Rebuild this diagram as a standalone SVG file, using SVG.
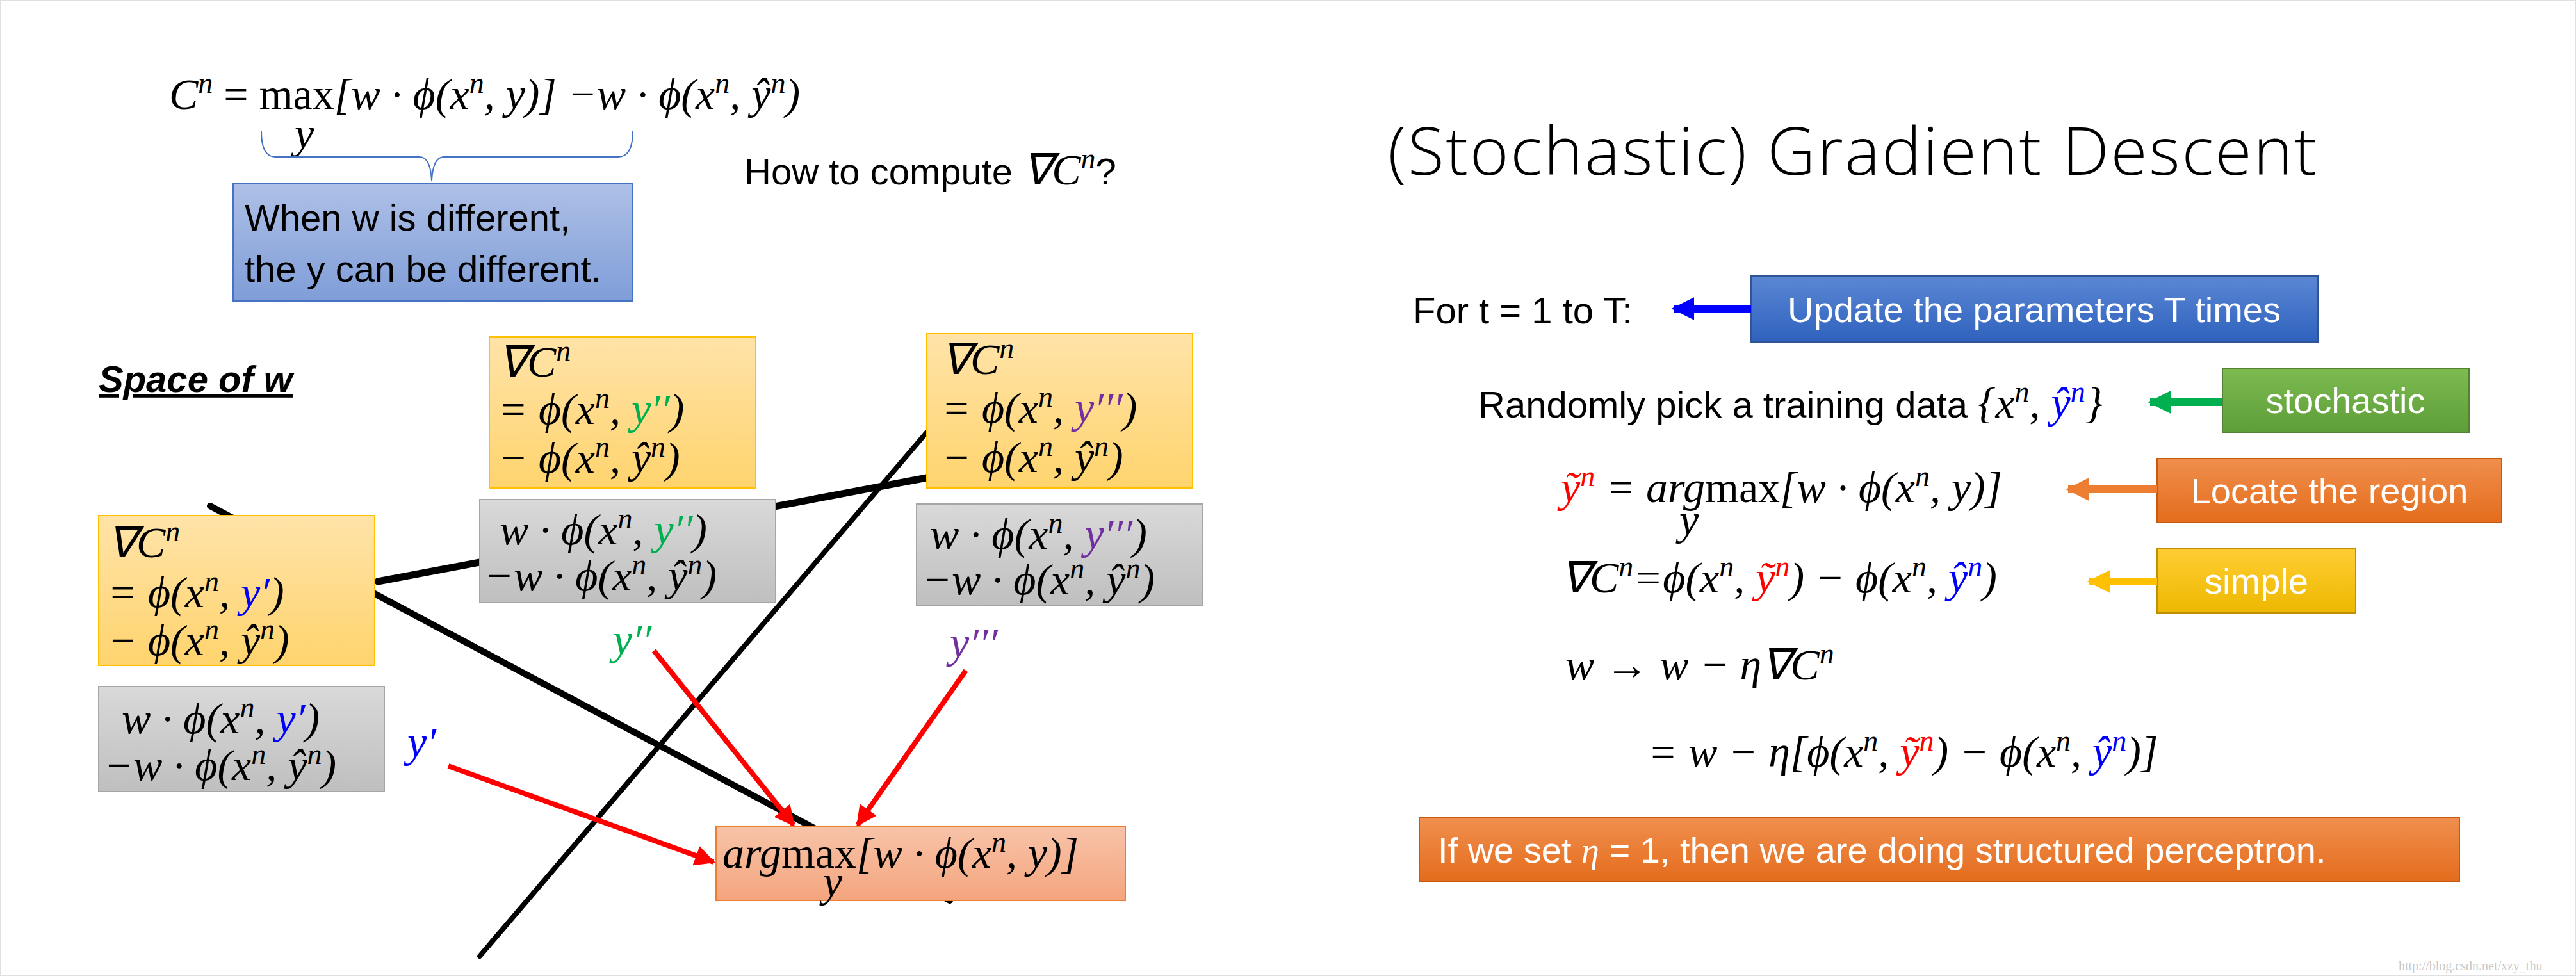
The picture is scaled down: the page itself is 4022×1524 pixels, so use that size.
<svg xmlns="http://www.w3.org/2000/svg" width="4022" height="1524" viewBox="0 0 4022 1524">
<style>
.m{font-family:"Liberation Serif",serif;font-style:italic;font-size:68px;fill:#000}
.t{font-family:"Liberation Sans",Arial,sans-serif;font-size:58px;fill:#000}
.w{font-family:"Liberation Sans",Arial,sans-serif;font-size:56px;fill:#fff}
.s{font-size:46px}
.bl{fill:#0000FF}.gr{fill:#00B050}.pu{fill:#7030A0}.rd{fill:#FF0000}
.yb{fill:url(#gy);stroke:#FFC000;stroke-width:2}
.gb{fill:url(#gg);stroke:#A6A6A6;stroke-width:2}
.bk{stroke:#000;stroke-linecap:round;fill:none}
.ra{stroke:#FF0000;stroke-width:8;fill:none;marker-end:url(#ar)}
</style>
<defs>
<linearGradient id="gy" x1="0" y1="0" x2="0" y2="1"><stop offset="0" stop-color="#FFE3A8"/><stop offset="1" stop-color="#FFD46E"/></linearGradient>
<linearGradient id="gg" x1="0" y1="0" x2="0" y2="1"><stop offset="0" stop-color="#D9D9D9"/><stop offset="1" stop-color="#BFBFBF"/></linearGradient>
<linearGradient id="gb" x1="0" y1="0" x2="0" y2="1"><stop offset="0" stop-color="#AEC0E6"/><stop offset="1" stop-color="#7F9DD8"/></linearGradient>
<linearGradient id="go" x1="0" y1="0" x2="0" y2="1"><stop offset="0" stop-color="#F8C3A8"/><stop offset="1" stop-color="#F4A57E"/></linearGradient>
<linearGradient id="gB" x1="0" y1="0" x2="0" y2="1"><stop offset="0" stop-color="#5B87D4"/><stop offset="1" stop-color="#2F62BE"/></linearGradient>
<linearGradient id="gG" x1="0" y1="0" x2="0" y2="1"><stop offset="0" stop-color="#7DBB51"/><stop offset="1" stop-color="#5E9E38"/></linearGradient>
<linearGradient id="gO" x1="0" y1="0" x2="0" y2="1"><stop offset="0" stop-color="#F08F4E"/><stop offset="1" stop-color="#E46C1C"/></linearGradient>
<linearGradient id="gY" x1="0" y1="0" x2="0" y2="1"><stop offset="0" stop-color="#FFCD33"/><stop offset="1" stop-color="#EDB800"/></linearGradient>
<marker id="ar" viewBox="0 0 10 10" refX="9" refY="5" markerWidth="4" markerHeight="4" orient="auto" markerUnits="strokeWidth"><path d="M0,0 L10,5 L0,10 z" fill="#FF0000"/></marker>
<marker id="aB" viewBox="0 0 10 10" refX="9" refY="5" markerWidth="3" markerHeight="3" orient="auto" markerUnits="strokeWidth"><path d="M0,0 L10,5 L0,10 z" fill="#0000FF"/></marker>
<marker id="aG" viewBox="0 0 10 10" refX="9" refY="5" markerWidth="3" markerHeight="3" orient="auto" markerUnits="strokeWidth"><path d="M0,0 L10,5 L0,10 z" fill="#00B050"/></marker>
<marker id="aO" viewBox="0 0 10 10" refX="9" refY="5" markerWidth="3" markerHeight="3" orient="auto" markerUnits="strokeWidth"><path d="M0,0 L10,5 L0,10 z" fill="#ED7D31"/></marker>
<marker id="aY" viewBox="0 0 10 10" refX="9" refY="5" markerWidth="3" markerHeight="3" orient="auto" markerUnits="strokeWidth"><path d="M0,0 L10,5 L0,10 z" fill="#FFC000"/></marker>
</defs>
<rect x="1" y="1" width="4020" height="1522" fill="#fff" stroke="#E0E0E0" stroke-width="2"/>

<g id="connectors">
<line class="bk" x1="328" y1="790" x2="1483" y2="1406" stroke-width="10"/>
<line class="bk" x1="590" y1="908" x2="1447" y2="746" stroke-width="11"/>
<line class="bk" x1="749" y1="1493" x2="1447" y2="675" stroke-width="8"/>
</g>

<g id="formula-top">
<text class="m" x="264" y="170">C<tspan class="s" dy="-25">n</tspan><tspan dy="25" font-style="normal"> = max</tspan>[w · ϕ(x<tspan class="s" dy="-25">n</tspan><tspan dy="25">, y)]  −w · ϕ(x</tspan><tspan class="s" dy="-25">n</tspan><tspan dy="25">, ŷ</tspan><tspan class="s" dy="-25">n</tspan><tspan dy="25">)</tspan></text>
<text class="m" x="460" y="232" font-size="48">y</text>
<path d="M408,205 Q408,245 430,245 L655,245 Q672,245 674,282 Q676,245 693,245 L965,245 Q988,245 988,205" fill="none" stroke="#4472C4" stroke-width="2"/>
</g>
<g id="note-blue">
<rect x="364" y="287" width="624" height="183" fill="url(#gb)" stroke="#4472C4" stroke-width="2"/>
<text class="t" x="382" y="360">When w is different,</text>
<text class="t" x="382" y="440">the y can be different.</text>
</g>
<text class="t" x="1162" y="288">How to compute <tspan class="m">∇C</tspan><tspan class="m s" dy="-25">n</tspan><tspan dy="25">?</tspan></text>
<text class="t" x="154" y="612" font-weight="bold" font-style="italic" text-decoration="underline">Space of w</text>

<g id="grad-y2">
<rect class="yb" x="764" y="526" width="416" height="236"/>
<text class="m" x="778" y="588">∇C<tspan class="s" dy="-25">n</tspan></text>
<text class="m" x="778" y="662">= ϕ(x<tspan class="s" dy="-25">n</tspan><tspan dy="25">, </tspan><tspan class="gr">y′′</tspan>)</text>
<text class="m" x="778" y="738">− ϕ(x<tspan class="s" dy="-25">n</tspan><tspan dy="25">, ŷ</tspan><tspan class="s" dy="-25">n</tspan><tspan dy="25">)</tspan></text>
</g>
<g id="score-y2">
<rect class="gb" x="749" y="780" width="462" height="161"/>
<text class="m" x="780" y="850">w · ϕ(x<tspan class="s" dy="-25">n</tspan><tspan dy="25">, </tspan><tspan class="gr">y′′</tspan>)</text>
<text class="m" x="756" y="922">−w · ϕ(x<tspan class="s" dy="-25">n</tspan><tspan dy="25">, ŷ</tspan><tspan class="s" dy="-25">n</tspan><tspan dy="25">)</tspan></text>
</g>
<g id="grad-y3">
<rect class="yb" x="1447" y="521" width="415" height="241"/>
<text class="m" x="1470" y="584">∇C<tspan class="s" dy="-25">n</tspan></text>
<text class="m" x="1470" y="660">= ϕ(x<tspan class="s" dy="-25">n</tspan><tspan dy="25">, </tspan><tspan class="pu">y′′′</tspan>)</text>
<text class="m" x="1470" y="737">− ϕ(x<tspan class="s" dy="-25">n</tspan><tspan dy="25">, ŷ</tspan><tspan class="s" dy="-25">n</tspan><tspan dy="25">)</tspan></text>
</g>
<g id="score-y3">
<rect class="gb" x="1431" y="787" width="446" height="159"/>
<text class="m" x="1452" y="857">w · ϕ(x<tspan class="s" dy="-25">n</tspan><tspan dy="25">, </tspan><tspan class="pu">y′′′</tspan>)</text>
<text class="m" x="1440" y="928">−w · ϕ(x<tspan class="s" dy="-25">n</tspan><tspan dy="25">, ŷ</tspan><tspan class="s" dy="-25">n</tspan><tspan dy="25">)</tspan></text>
</g>
<g id="grad-y1">
<rect class="yb" x="154" y="805" width="431" height="234"/>
<text class="m" x="168" y="870">∇C<tspan class="s" dy="-25">n</tspan></text>
<text class="m" x="168" y="948">= ϕ(x<tspan class="s" dy="-25">n</tspan><tspan dy="25">, </tspan><tspan class="bl">y′</tspan>)</text>
<text class="m" x="168" y="1023">− ϕ(x<tspan class="s" dy="-25">n</tspan><tspan dy="25">, ŷ</tspan><tspan class="s" dy="-25">n</tspan><tspan dy="25">)</tspan></text>
</g>
<g id="score-y1">
<rect class="gb" x="154" y="1072" width="446" height="164"/>
<text class="m" x="190" y="1145">w · ϕ(x<tspan class="s" dy="-25">n</tspan><tspan dy="25">, </tspan><tspan class="bl">y′</tspan>)</text>
<text class="m" x="162" y="1218">−w · ϕ(x<tspan class="s" dy="-25">n</tspan><tspan dy="25">, ŷ</tspan><tspan class="s" dy="-25">n</tspan><tspan dy="25">)</tspan></text>
</g>
<text class="m bl" x="636" y="1182">y′</text>
<text class="m gr" x="957" y="1022">y′′</text>
<text class="m pu" x="1483" y="1027">y′′′</text>

<g id="red-arrows">
<line class="ra" x1="700" y1="1196" x2="1114" y2="1346"/>
<line class="ra" x1="1021" y1="1016" x2="1239" y2="1288"/>
<line class="ra" x1="1508" y1="1047" x2="1339" y2="1288"/>
</g>
<g id="argmax">
<rect x="1118" y="1290" width="639" height="116" fill="url(#go)" stroke="#ED7D31" stroke-width="2"/>
<text class="m" x="1128" y="1355">arg<tspan font-style="normal">max</tspan>[w · ϕ(x<tspan class="s" dy="-25">n</tspan><tspan dy="25">, y)]</tspan></text>
<text class="m" x="1285" y="1400" font-size="44">y</text>
</g>

<text x="2167" y="273" font-family="'Open Sans','Liberation Sans',sans-serif" font-weight="300" font-size="104" textLength="1450" fill="#000">(Stochastic) Gradient Descent</text>

<g id="for-loop">
<text class="t" x="2206" y="505">For t = 1 to T:</text>
</g>
<g id="update-box">
<rect x="2734" y="431" width="885" height="103" fill="url(#gB)" stroke="#2F5597" stroke-width="2"/>
<text class="w" x="3176" y="503" text-anchor="middle">Update the parameters T times</text>
</g>
<line x1="2734" y1="482" x2="2613" y2="482" stroke="#0000FF" stroke-width="12" marker-end="url(#aB)"/>

<g id="pick">
<text class="t" x="2308" y="652">Randomly pick a training data <tspan class="m">{x</tspan><tspan class="m s" dy="-25">n</tspan><tspan class="m" dy="25">, </tspan><tspan class="m bl">ŷ</tspan><tspan class="m s bl" dy="-25">n</tspan><tspan class="m" dy="25">}</tspan></text>
</g>
<g id="stochastic-box">
<rect x="3470" y="575" width="385" height="100" fill="url(#gG)" stroke="#548235" stroke-width="2"/>
<text class="w" x="3662" y="645" text-anchor="middle">stochastic</text>
</g>
<line x1="3470" y1="628" x2="3357" y2="628" stroke="#00B050" stroke-width="12" marker-end="url(#aG)"/>

<g id="locate">
<text class="m" x="2437" y="784"><tspan class="rd">ỹ</tspan><tspan class="s rd" dy="-25">n</tspan><tspan dy="25"> = arg</tspan><tspan font-style="normal">max</tspan>[w · ϕ(x<tspan class="s" dy="-25">n</tspan><tspan dy="25">, y)]</tspan></text>
<text class="m" x="2622" y="835" font-size="48">y</text>
</g>
<g id="locate-box">
<rect x="3368" y="716" width="538" height="100" fill="url(#gO)" stroke="#C55A11" stroke-width="2"/>
<text class="w" x="3637" y="786" text-anchor="middle">Locate the region</text>
</g>
<line x1="3368" y1="764" x2="3229" y2="764" stroke="#ED7D31" stroke-width="12" marker-end="url(#aO)"/>

<g id="gradient">
<text class="m" x="2437" y="925">∇C<tspan class="s" dy="-25">n</tspan><tspan dy="25">=ϕ(x</tspan><tspan class="s" dy="-25">n</tspan><tspan dy="25">, </tspan><tspan class="rd">ỹ</tspan><tspan class="s rd" dy="-25">n</tspan><tspan dy="25">) − ϕ(x</tspan><tspan class="s" dy="-25">n</tspan><tspan dy="25">, </tspan><tspan class="bl">ŷ</tspan><tspan class="s bl" dy="-25">n</tspan><tspan dy="25">)</tspan></text>
</g>
<g id="simple-box">
<rect x="3368" y="857" width="310" height="100" fill="url(#gY)" stroke="#BF9000" stroke-width="2"/>
<text class="w" x="3523" y="927" text-anchor="middle">simple</text>
</g>
<line x1="3368" y1="908" x2="3262" y2="908" stroke="#FFC000" stroke-width="12" marker-end="url(#aY)"/>

<text class="m" x="2444" y="1061">w → w − η∇C<tspan class="s" dy="-25">n</tspan></text>
<text class="m" x="2573" y="1197">= w − η[ϕ(x<tspan class="s" dy="-25">n</tspan><tspan dy="25">, </tspan><tspan class="rd">ỹ</tspan><tspan class="s rd" dy="-25">n</tspan><tspan dy="25">) − ϕ(x</tspan><tspan class="s" dy="-25">n</tspan><tspan dy="25">, </tspan><tspan class="bl">ŷ</tspan><tspan class="s bl" dy="-25">n</tspan><tspan dy="25">)]</tspan></text>

<g id="conclusion">
<rect x="2216" y="1277" width="1624" height="100" fill="url(#gO)" stroke="#C55A11" stroke-width="2"/>
<text class="w" x="2245" y="1347" font-size="58">If we set <tspan font-family="'Liberation Serif',serif" font-style="italic">η</tspan> = 1, then we are doing structured perceptron.</text>
</g>
<text x="3745" y="1515" font-family="'Liberation Serif',serif" font-size="20" fill="#C8C8C8">http://blog.csdn.net/xzy_thu</text>
</svg>
